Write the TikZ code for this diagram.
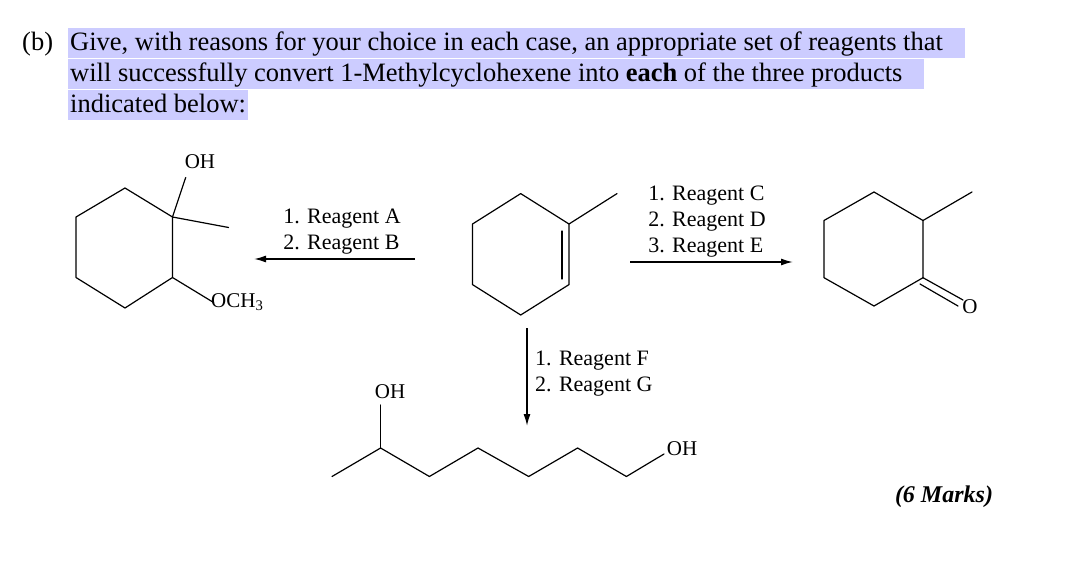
\documentclass[tikz,border=0pt]{standalone}
\usepackage{fontspec}
\setmainfont{Liberation Serif}
\newfontfamily\ser{Liberation Serif}
\usetikzlibrary{arrows.meta}
\definecolor{hl}{RGB}{204,204,255}
\begin{document}
\begin{tikzpicture}[x=1pt,y=-1pt,
  bond/.style={line width=1.2pt,line cap=round,line join=round},
  rxn/.style={line width=1.5pt,-{Latex[length=12pt,width=7pt]}},
  head/.style={anchor=base west,inner sep=0pt,font=\ser\fontsize{26.5}{30}\selectfont},
  chem/.style={inner sep=0pt,font=\ser\fontsize{21}{24}\selectfont},
  reag/.style={inner sep=0pt,font=\ser\fontsize{22}{27}\selectfont,align=left}]
\useasboundingbox (0,0) rectangle (1066,570);
% highlights
\fill[hl] (68,28) rectangle (965,58);
\fill[hl] (68,59) rectangle (924,89);
\fill[hl] (68,90) rectangle (248,120);
\node[head] (b) at (22,50) {(b)};
\node[head] (l1) at (70,50) {Give, with reasons for your choice in each case, an appropriate set of reagents that};
\node[head] (l2) at (70,81) {will successfully convert 1-Methylcyclohexene into \textbf{each} of the three products};
\node[head] (l3) at (70,112) {indicated below:};
% left product
\draw[bond] (125,188) -- (172.5,217) -- (172.5,277.5) -- (125,308) -- (76,277.5) -- (76,217) -- cycle;
\draw[bond] (172.5,217) -- (228.6,227.5);
\draw[bond] (172.5,217) -- (185.7,177.5);
\draw[bond] (172.5,277.5) -- (213.6,302.5);
\node[chem] (oh1) at (200,162) {OH};
\node[chem,anchor=west] (och3) at (211,302) {OCH\textsubscript{3}};
% arrow left
\coordinate (a1s) at (415,259);
\coordinate (a1e) at (254,259);
\draw[rxn] (a1s) -- (a1e);
\node[reag] (rA) at (342,232) {1. Reagent A\\[-1pt]2. Reagent B};
% center
\draw[bond] (520.7,193.6) -- (569,224) -- (569,284.6) -- (520.7,315) -- (472.5,284.6) -- (472.5,224) -- cycle;
\draw[bond] (562,231) -- (562,279);
\draw[bond] (569,224) -- (617,193.6);
% arrow right
\coordinate (a2s) at (630,262);
\coordinate (a2e) at (793,262);
\draw[rxn] (a2s) -- (a2e);
\node[reag] (rC) at (707,222) {1. Reagent C\\[-1pt]2. Reagent D\\[-1pt]3. Reagent E};
% right product
\draw[bond] (874,192) -- (923,220.5) -- (923,277.7) -- (874,306) -- (824,277.7) -- (824,220.5) -- cycle;
\draw[bond] (923,220.5) -- (972,192);
\draw[bond] (923,277.7) -- (963,300);
\draw[bond] (920,284) -- (958,306);
\node[chem] (o) at (970,307) {O};
% arrow down
\coordinate (a3s) at (527,328);
\coordinate (a3e) at (527,426);
\draw[rxn] (a3s) -- (a3e);
\node[reag,anchor=west] (rF) at (535,374) {1. Reagent F\\[-1pt]2. Reagent G};
% bottom product
\draw[bond] (332,476.5) -- (380.6,448) -- (429.4,476.5) -- (478,448) -- (528.7,476.5) -- (577.6,448) -- (626.4,476.5) -- (664,454);
\draw[bond] (380.6,448) -- (380.6,405);
\node[chem] (oh2) at (390,392) {OH};
\node[chem] (oh3) at (682,449) {OH};
\node[inner sep=0pt,font=\ser\fontsize{24}{28}\selectfont\bfseries\itshape] (marks) at (944,497) {(6 Marks)};
\end{tikzpicture}
\end{document}
